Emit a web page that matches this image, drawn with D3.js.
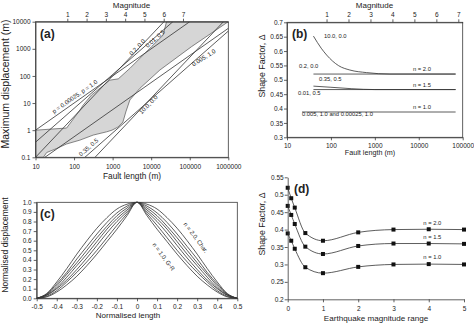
<!DOCTYPE html>
<html>
<head>
<meta charset="utf-8">
<script src="https://cdn.jsdelivr.net/npm/d3@7"></script>
<style>
  body { margin: 0; background: #fff; }
  text { font-family: "Liberation Sans", Arial, Helvetica, sans-serif; fill: #222; }
</style>
</head>
<body>
<svg id="fig" width="474" height="323"></svg>
<script>
// ---- data ----
var magTicks = [1, 2, 3, 4, 5, 6, 7];

// (a) maximum displacement vs fault length
var lengthTicksA = [10, 100, 1000, 10000, 100000, 1000000];
var dispTicksA = [0.1, 1, 10, 100, 1000, 10000];
var magDomainA = [-0.65, 9.35];
var fieldUpper = [[10, 1], [64, 1.2], [142, 5.5], [173, 8.5], [286, 20], [850, 70], [1400, 78],
  [2800, 190], [10200, 1200], [20400, 3200], [25000, 10000], [1000000, 10000]];
var fieldLower = [[111000, 1200], [16800, 165], [5100, 35], [2800, 13], [2200, 4.7], [1850, 2],
  [1370, 1.3], [960, 1], [700, 0.87], [314, 0.66], [142, 0.43], [64, 0.31], [35, 0.21],
  [19.5, 0.15], [16, 0.1], [10, 0.1]];
var scalingNames = ['p = 0.00025, p = 1.0', '0.005, 1.0', '0.2, 0.0', '10.0, 0.0', '0.01, 0.5', '0.35, 0.5'];
var scalingStart = [[10, 1], [17.5, 0.1], [10, 0.1], [350, 0.1], [10, 0.36], [191, 0.1]];
var scalingEnd = [[100000, 10000], [1000000, 5700], [21500, 10000], [750000, 10000], [36500, 10000], [1000000, 4500]];

// (b) shape factor vs fault length
var lengthTicksB = [10, 100, 1000, 10000, 100000];
var shapeTicksB = [0.3, 0.35, 0.4, 0.45, 0.5, 0.55, 0.6, 0.65, 0.7];
var magDomainB = [-0.8, 7.2];
var curve10 = [[40, 0.652], [60, 0.61], [80, 0.586], [150, 0.549], [270, 0.534], [650, 0.525], [2200, 0.52], [69000, 0.52]];
var lineN20 = [[40, 0.52], [69000, 0.52]];
var curve035 = [[40, 0.478], [100, 0.474], [300, 0.469], [1000, 0.466], [69000, 0.466]];
var lineN15 = [[40, 0.466], [69000, 0.466]];
var lineN10 = [[22, 0.388], [69000, 0.388]];

// (c) normalised displacement profiles (half profile, symmetric)
var normLength = [0, 0.05, 0.1, 0.15, 0.2, 0.25, 0.3, 0.35, 0.4, 0.45, 0.5];
var profiles = [
  [1, 0.98, 0.93, 0.84, 0.73, 0.60, 0.46, 0.31, 0.17, 0.05, 0],
  [1, 0.96, 0.89, 0.79, 0.67, 0.54, 0.41, 0.27, 0.15, 0.045, 0],
  [1, 0.94, 0.86, 0.75, 0.63, 0.50, 0.37, 0.25, 0.13, 0.04, 0],
  [1, 0.92, 0.83, 0.72, 0.59, 0.46, 0.34, 0.22, 0.11, 0.035, 0],
  [1, 0.90, 0.80, 0.68, 0.55, 0.42, 0.30, 0.19, 0.10, 0.03, 0],
  [1, 0.88, 0.76, 0.63, 0.50, 0.38, 0.27, 0.17, 0.08, 0.02, 0],
  [1, 0.86, 0.72, 0.59, 0.46, 0.34, 0.23, 0.14, 0.065, 0.015, 0]
];
var normLengthTicks = [-0.5, -0.4, -0.3, -0.2, -0.1, 0, 0.1, 0.2, 0.3, 0.4, 0.5];
var normDispTicks = [0, 0.1, 0.2, 0.3, 0.4, 0.5, 0.6, 0.7, 0.8, 0.9, 1.0];

// (d) shape factor vs earthquake magnitude range
var magRange = [0, 0.1, 0.2, 0.5, 1, 2, 3, 4, 5];
var shapeN20 = [0.52, 0.49, 0.463, 0.39, 0.368, 0.392, 0.40, 0.401, 0.40];
var shapeN15 = [0.468, 0.442, 0.416, 0.351, 0.33, 0.353, 0.36, 0.36, 0.359];
var shapeN10 = [0.389, 0.368, 0.345, 0.292, 0.275, 0.293, 0.30, 0.301, 0.30];
var seriesD = ['n = 2.0', 'n = 1.5', 'n = 1.0'];
var shapeTicksD = [0.2, 0.25, 0.3, 0.35, 0.4, 0.45, 0.5, 0.55];
var magRangeTicks = [0, 1, 2, 3, 4, 5];

// ---- drawing ----
var svg = d3.select('#fig');
var ink = '#3a3a3a';

function styleAxis(g, size) {
  g.selectAll('text').style('font-size', (size || 6.5) + 'px');
  g.selectAll('line, path').attr('stroke', ink).attr('stroke-width', 0.8);
}
function frame(p) {
  svg.append('rect').attr('x', p.l).attr('y', p.t)
    .attr('width', p.r - p.l).attr('height', p.b - p.t)
    .attr('fill', 'none').attr('stroke', ink).attr('stroke-width', 0.8);
}
function clip(id, p) {
  svg.append('clipPath').attr('id', id).append('rect')
    .attr('x', p.l).attr('y', p.t).attr('width', p.r - p.l).attr('height', p.b - p.t);
}
function label(x, y, txt, size, rot, anchor) {
  return svg.append('text').attr('transform', 'translate(' + x + ',' + y + ') rotate(' + (rot || 0) + ')')
    .attr('text-anchor', anchor || 'middle').style('font-size', size + 'px').text(txt);
}

// ---------- panel (a) ----------
var pa = {l: 35.5, r: 228.3, t: 21.7, b: 157.3};
var xA = d3.scaleLog().domain([10, 1e6]).range([pa.l, pa.r]);
var yA = d3.scaleLog().domain([0.1, 1e4]).range([pa.b, pa.t]);
var mA = d3.scaleLinear().domain(magDomainA).range([pa.l, pa.r]);
clip('clipA', pa);
var lineA = d3.line().x(function(d) { return xA(d[0]); }).y(function(d) { return yA(d[1]); });
var gA = svg.append('g').attr('clip-path', 'url(#clipA)');
gA.append('path').attr('d', lineA(fieldUpper.concat(fieldLower)) + 'Z')
  .attr('fill', '#d6d6d6').attr('stroke', '#555').attr('stroke-width', 0.7);
gA.selectAll('path.scaling').data(scalingNames).join('path').attr('class', 'scaling')
  .attr('d', function(d, i) { return lineA([scalingStart[i], scalingEnd[i]]); })
  .attr('fill', 'none').attr('stroke', '#333').attr('stroke-width', 0.8);

frame(pa);
styleAxis(svg.append('g').attr('transform', 'translate(0,' + pa.b + ')')
  .call(d3.axisBottom(xA).tickValues(lengthTicksA).tickFormat(String).tickSize(3).tickPadding(4).tickSizeOuter(0)));
styleAxis(svg.append('g').attr('transform', 'translate(' + pa.l + ',0)')
  .call(d3.axisLeft(yA).tickValues(dispTicksA).tickFormat(String).tickSize(3).tickPadding(2).tickSizeOuter(0)));
styleAxis(svg.append('g').attr('transform', 'translate(0,' + pa.t + ')')
  .call(d3.axisTop(mA).tickValues(magTicks).tickFormat(String).tickSize(3).tickPadding(2).tickSizeOuter(0)));

// labels along the scaling lines, placed in data space
var labelPosA = [[112, 17.7, -35], [246000, 485, -32], [4720, 1200, -46], [9250, 9.2, -46], [13800, 2440, -41], [258, 0.244, -41]];
scalingNames.forEach(function(n, i) {
  var p = labelPosA[i];
  label(xA(p[0]), yA(p[1]) + 2, n, 6, p[2]);
});
label(132, 178.5, 'Fault length (m)', 8.3);
label(131.5, 7.5, 'Magnitude', 8);
label(9, 84, 'Maximum displacement (m)', 10.5, -90);
svg.append('text').attr('x', 40).attr('y', 38).style('font-size', '12px').style('font-weight', 'bold').text('(a)');

// ---------- panel (b) ----------
var pb = {l: 287, r: 462.7, t: 22.3, b: 137.3};
var xB = d3.scaleLog().domain([10, 1e5]).range([pb.l, pb.r]);
var yB = d3.scaleLinear().domain([0.3, 0.7]).range([pb.b, pb.t]);
var mB = d3.scaleLinear().domain(magDomainB).range([pb.l, pb.r]);
var lineB = d3.line().x(function(d) { return xB(d[0]); }).y(function(d) { return yB(d[1]); }).curve(d3.curveMonotoneX);
[curve10, lineN20, curve035, lineN15, lineN10].forEach(function(s) {
  svg.append('path').attr('d', lineB(s)).attr('fill', 'none').attr('stroke', '#333').attr('stroke-width', 0.8);
});
frame(pb);
styleAxis(svg.append('g').attr('transform', 'translate(0,' + pb.b + ')')
  .call(d3.axisBottom(xB).tickValues(lengthTicksB).tickFormat(String).tickSize(3).tickPadding(3).tickSizeOuter(0)));
styleAxis(svg.append('g').attr('transform', 'translate(' + pb.l + ',0)')
  .call(d3.axisLeft(yB).tickValues(shapeTicksB).tickFormat(String).tickSize(3).tickPadding(1).tickSizeOuter(0)));
styleAxis(svg.append('g').attr('transform', 'translate(0,' + pb.t + ')')
  .call(d3.axisTop(mB).tickValues(magTicks).tickFormat(String).tickSize(3).tickPadding(2).tickSizeOuter(0)));
var notesB = [['10.0, 0.0', 324, 0.645], ['0.2, 0.0', 299, 0.542], ['n = 2.0', 413, 0.531], ['0.35, 0.5', 319, 0.497],
  ['n = 1.5', 413, 0.475], ['0.01, 0.5', 298, 0.448], ['n = 1.0', 413, 0.397], ['0.005, 1.0 and 0.00025, 1.0', 302, 0.373]];
notesB.forEach(function(n) { label(n[1], yB(n[2]), n[0], 5.8, 0, 'start'); });
label(370, 155, 'Fault length (m)', 7.2);
label(374.5, 7.5, 'Magnitude', 8);
label(264.5, 66, 'Shape Factor, \u0394', 8.8, -90);
svg.append('text').attr('x', 292).attr('y', 38).style('font-size', '12px').style('font-weight', 'bold').text('(b)');

// ---------- panel (c) ----------
var pc = {l: 36.7, r: 237.3, t: 202.3, b: 298.3};
var xC = d3.scaleLinear().domain([-0.5, 0.5]).range([pc.l, pc.r]);
var yC = d3.scaleLinear().domain([0, 1]).range([pc.b, pc.t]);
var lineC = d3.line().x(function(d) { return xC(d[0]); }).y(function(d) { return yC(d[1]); }).curve(d3.curveMonotoneX);
profiles.forEach(function(prof) {
  var pts = normLength.map(function(x, i) { return [-x, prof[i]]; }).reverse()
    .concat(normLength.slice(1).map(function(x, i) { return [x, prof[i + 1]]; }));
  svg.append('path').attr('d', lineC(pts)).attr('fill', 'none').attr('stroke', '#333').attr('stroke-width', 0.8);
});
frame(pc);
styleAxis(svg.append('g').attr('transform', 'translate(0,' + pc.b + ')')
  .call(d3.axisBottom(xC).tickValues(normLengthTicks).tickFormat(function(d) { return d === 0 ? '0' : d.toFixed(1); }).tickSize(3).tickPadding(3).tickSizeOuter(0)));
styleAxis(svg.append('g').attr('transform', 'translate(' + pc.l + ',0)')
  .call(d3.axisLeft(yC).tickValues(normDispTicks).tickFormat(function(d) { return d.toFixed(1); }).tickSize(3).tickPadding(2).tickSizeOuter(0)));
label(xC(0.285), yC(0.62), 'n = 2.0, Char.', 6, 53);
label(xC(0.125), yC(0.42), 'n = 1.0, G-R', 6, 53);
label(128, 318, 'Normalised length', 8);
label(8, 245, 'Normalised displacement', 8.5, -90);
svg.append('text').attr('x', 40).attr('y', 218).style('font-size', '12px').style('font-weight', 'bold').text('(c)');

// ---------- panel (d) ----------
var pd = {l: 287.7, r: 464, t: 177.3, b: 299.3};
var xD = d3.scaleLinear().domain([0, 5]).range([pd.l, pd.r]);
var yD = d3.scaleLinear().domain([0.2, 0.55]).range([pd.b, pd.t]);
var lineD = d3.line().x(function(d) { return xD(d[0]); }).y(function(d) { return yD(d[1]); }).curve(d3.curveMonotoneX);
[shapeN20, shapeN15, shapeN10].forEach(function(vals, k) {
  var pts = magRange.map(function(m, i) { return [m, vals[i]]; });
  svg.append('path').attr('d', lineD(pts)).attr('fill', 'none').attr('stroke', '#333').attr('stroke-width', 0.8);
  svg.selectAll(null).data(pts).join('rect')
    .attr('x', function(d) { return xD(d[0]) - 2; }).attr('y', function(d) { return yD(d[1]) - 2; })
    .attr('width', 4).attr('height', 4).attr('fill', '#111');
  label(xD(4.1), yD(vals[6]) - 5, seriesD[k], 5.8, 0, 'middle');
});
styleAxis(svg.append('g').attr('transform', 'translate(0,' + pd.b + ')')
  .call(d3.axisBottom(xD).tickValues(magRangeTicks).tickFormat(String).tickSize(3).tickPadding(4).tickSizeOuter(0)));
styleAxis(svg.append('g').attr('transform', 'translate(' + pd.l + ',0)')
  .call(d3.axisLeft(yD).tickValues(shapeTicksD).tickFormat(String).tickSize(3).tickPadding(1).tickSizeOuter(0)));
label(376, 321, 'Earthquake magnitude range', 8.1);
label(264.5, 224, 'Shape Factor, \u0394', 8.8, -90);
svg.append('text').attr('x', 294).attr('y', 193).style('font-size', '12px').style('font-weight', 'bold').text('(d)');
</script>
</body>
</html>
